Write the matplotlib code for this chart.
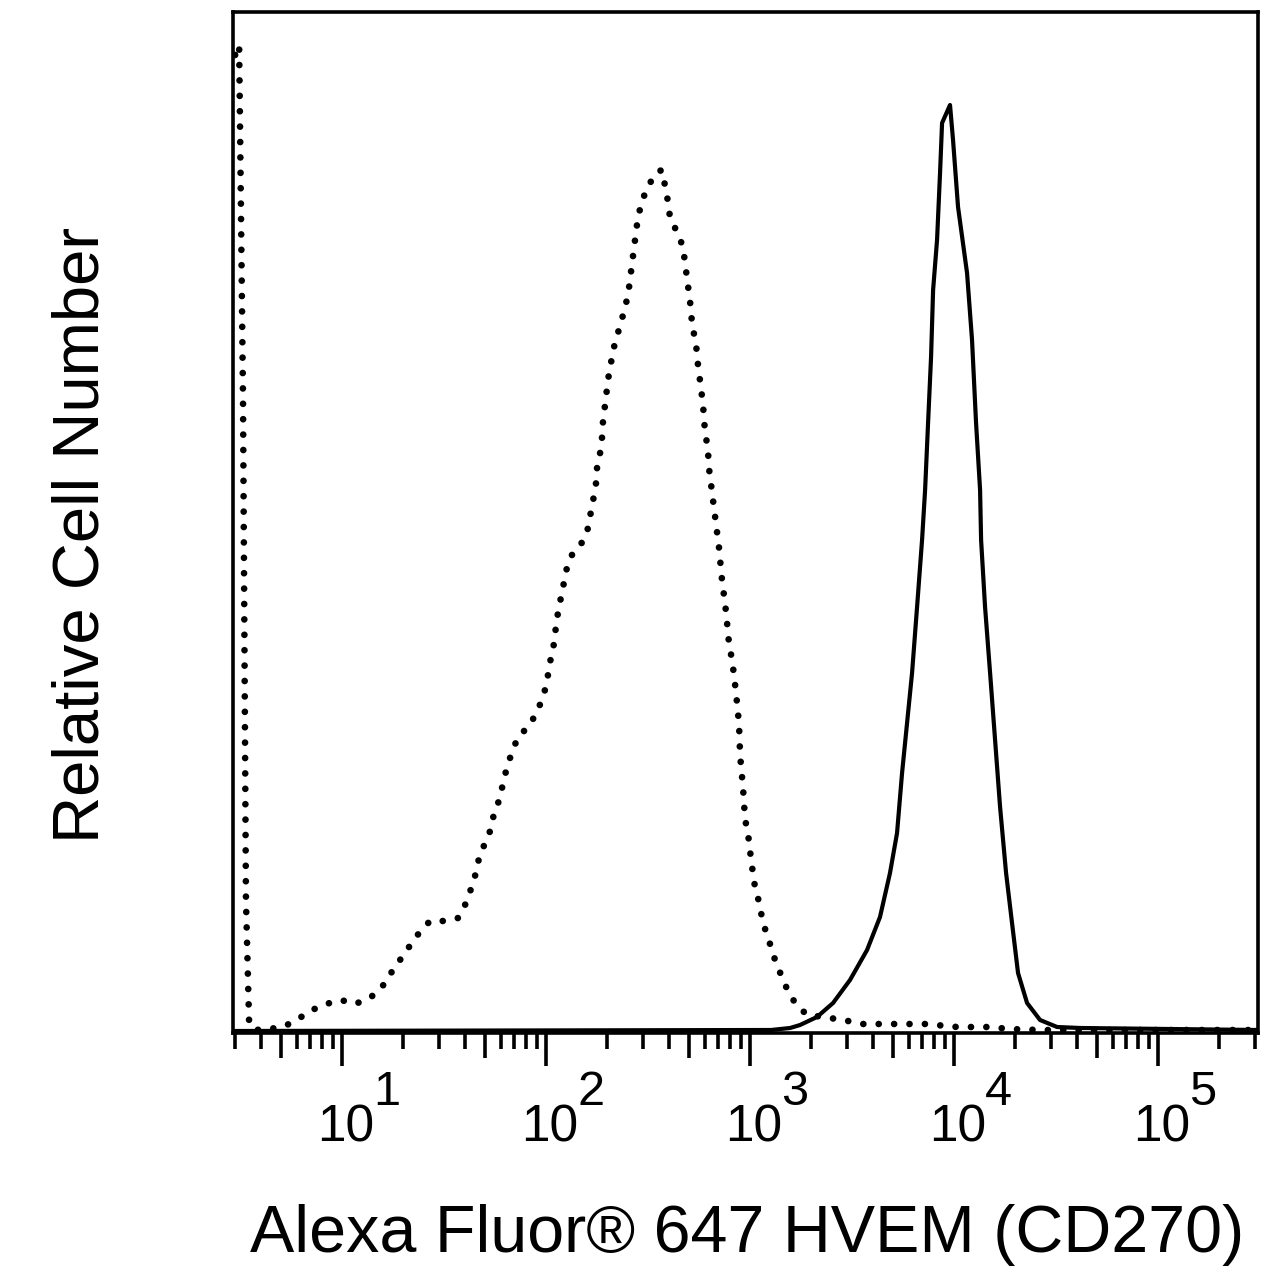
import matplotlib.pyplot as plt
from matplotlib.ticker import FixedLocator, NullFormatter, NullLocator

plt.rcParams['font.family'] = ['Liberation Sans', 'DejaVu Sans']

# isotype control (dotted)
iso_x = [2.99, 3.13, 3.27, 3.38, 3.50, 3.70, 4.44, 5.26, 6.08, 7.13, 8.35, 9.89,
         11.58, 13.71, 15.70, 17.38, 19.24, 21.29, 23.84, 26.98, 31.97, 37.05,
         40.53, 44.4, 46.95, 50.2, 53.7, 55.6, 59.5, 61.5, 64.4, 68.1, 72.9,
         82.5, 90.3, 96.6, 101.2, 103.4, 108.2, 110.7, 113.2, 117.1, 121.2,
         125.3, 132.7, 148.5, 158.9, 169.9, 175.8, 177.8, 184.0, 188.2, 190.2,
         194.6, 199.1, 203.6, 210.7, 217.9, 230.6, 241.2, 252.4, 258.2, 264.0,
         270.0, 276.1, 282.4, 295.5, 316.2, 349.9, 370.4, 383.1, 396.3, 405.4,
         438.7, 469.5, 479.8, 490.9, 502.3, 514.0, 519.6, 543.3, 549.5, 562.3,
         575.4, 588.6, 595.3, 608.7, 622.7, 629.8, 644.3, 658.8, 689, 704.7,
         729.2, 745.8, 762.6, 789, 816.3, 835, 853.6, 883.2, 893.4, 924, 945,
         977.7, 1000, 1046, 1094, 1132, 1185, 1253, 1326, 1419, 1518, 1662,
         1901, 2306, 3020, 3539, 5027, 7295, 10350, 14690, 18820, 26400,
         52000, 128300, 309000]
iso_y = [978, 988, 633, 133, 13, 3, 4, 7, 14, 23, 29, 33,
         29, 35, 46, 60, 73, 86, 100, 112, 112, 115,
         130, 153, 175, 190, 204, 220, 235, 250, 266, 281, 296,
         307, 321, 336, 351, 367, 383, 399, 415, 431, 446,
         462, 477, 489, 501, 532, 550, 565, 580, 596, 612,
         628, 645, 660, 676, 691, 707, 722, 738, 754, 770,
         785, 801, 816, 832, 847, 861, 863, 847, 831, 815,
         801, 786, 770, 755, 739, 723, 707, 691, 676, 660,
         644, 628, 611, 596, 580, 564, 548, 532, 500, 485,
         452, 437, 421, 389, 373, 357, 340, 309, 278, 245, 214,
         199, 182, 151, 135, 120, 104, 89, 73, 58, 44, 30,
         18, 16, 12, 9, 9, 9, 6, 6, 4, 3,
         3, 3, 3]

# HVEM stained (solid)
hvem_x = [2.99, 1268, 1571, 1758, 2128, 2552, 3090, 3746, 4335, 4853, 5255,
          5561, 5884, 6225, 6587, 6969, 7212, 7458, 7714, 7894, 8254, 8537,
          8735, 9555, 9886, 10460, 11580, 12250, 12820, 13415, 13570, 14190,
          15020, 15890, 16810, 17990, 19240, 20590, 22800, 26400, 31990,
          41470, 309000]
hvem_y = [2, 3, 5, 8, 16, 30, 53, 83, 116, 160, 200,
          260, 310, 360, 426, 493, 543, 610, 676, 743, 793, 860,
          910, 928, 893, 826, 760, 693, 610, 543, 493, 426,
          360, 293, 226, 160, 110, 60, 30, 13, 6,
          5, 3]

decades = [10, 100, 1000, 10000, 100000]
exponents = ['1', '2', '3', '4', '5']
mid_ticks = [5, 50, 500, 5000, 50000]
minor_ticks = [n * 10 ** k for k in range(0, 6) for n in (2, 3, 4, 6, 7, 8, 9)]
minor_ticks = [t for t in minor_ticks if 2.9 <= t <= 3.1e5]

fig = plt.figure(figsize=(12.79, 12.79), dpi=100)
ax = fig.add_axes([233 / 1279, 1 - 1033 / 1279, 1025 / 1279, 1021 / 1279])

ax.plot(iso_x, iso_y, color='black', lw=4.8, linestyle=(0, (0.01, 2.3)),
        dash_capstyle='round')
ax.plot(hvem_x, hvem_y, color='black', lw=3.0, solid_joinstyle='round')

ax.set_xscale('log')
xlim = (2.92, 3.09e5)
ax.set_xlim(xlim)
ax.set_ylim(0, 1021)
ax.set_yticks([])
ax.xaxis.set_major_locator(FixedLocator(decades))
ax.xaxis.set_minor_locator(FixedLocator(minor_ticks))
ax.xaxis.set_major_formatter(NullFormatter())
ax.xaxis.set_minor_formatter(NullFormatter())
ax.tick_params(axis='x', which='major', length=23.8, width=2.6, direction='out')
ax.tick_params(axis='x', which='minor', length=11.5, width=2.6, direction='out')
for s in ax.spines.values():
    s.set_linewidth(2.6)

# medium ticks at 5 x 10^n
ax2 = ax.twiny()
ax2.set_xscale('log')
ax2.set_xlim(xlim)
ax2.xaxis.set_ticks_position('bottom')
ax2.xaxis.set_major_locator(FixedLocator(mid_ticks))
ax2.xaxis.set_minor_locator(NullLocator())
ax2.tick_params(axis='x', which='major', length=18, width=2.6, direction='out',
                labelbottom=False, labeltop=False)
for s in ax2.spines.values():
    s.set_visible(False)

# tick labels 10^n
for d, e in zip(decades, exponents):
    ax.annotate('10', xy=(d, 0), xycoords=('data', 'axes fraction'),
                xytext=(2.5, -77.8), textcoords='offset points',
                ha='center', va='baseline', fontsize=37, annotation_clip=False)
    ax.annotate(e, xy=(d, 0), xycoords=('data', 'axes fraction'),
                xytext=(22.5, -51.8), textcoords='offset points',
                ha='left', va='baseline', fontsize=35, annotation_clip=False)

fig.text(747 / 1279, 1 - 1252 / 1279, 'Alexa Fluor® 647 HVEM (CD270)',
         ha='center', va='baseline', fontsize=47.8)
fig.text(82 / 1279, 1 - 535 / 1279, 'Relative Cell Number',
         ha='center', va='center', rotation=90, fontsize=47)

fig.savefig('out.png', dpi=100)
